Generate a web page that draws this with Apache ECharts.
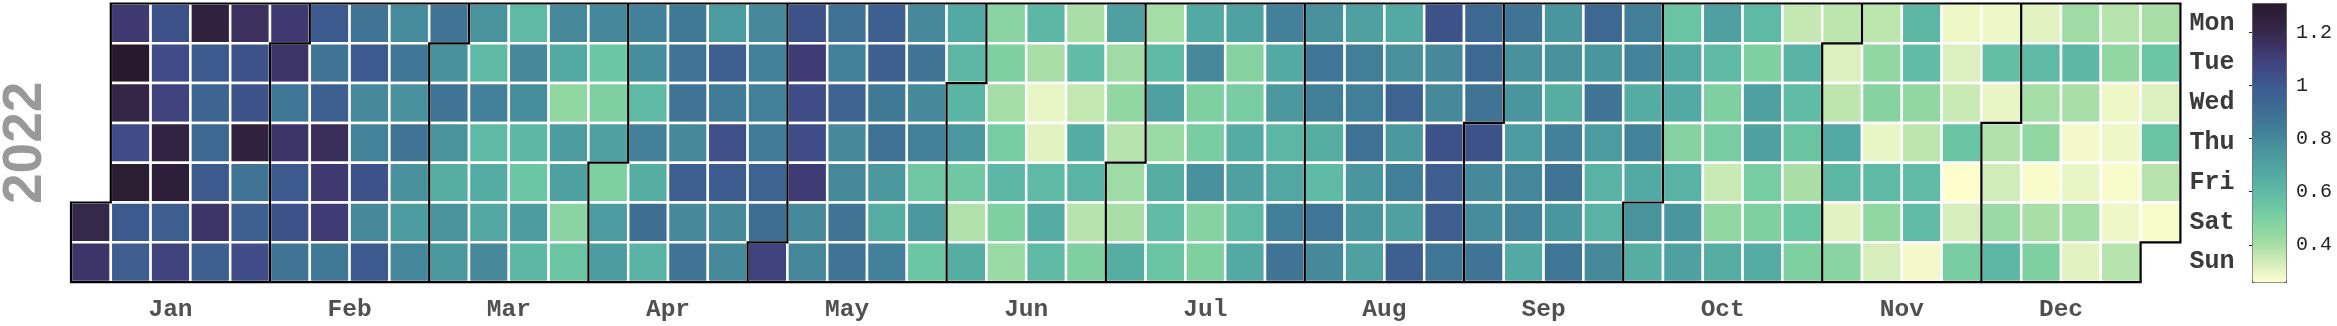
<!DOCTYPE html>
<html>
<head>
<meta charset="utf-8">
<script src="https://cdn.jsdelivr.net/npm/echarts@6/dist/echarts.min.js"></script>
<style>
html,body{margin:0;padding:0;background:#fff;}
#chart{width:2337px;height:326px;}
</style>
</head>
<body>
<div id="chart"></div>
<script>
// ---- data (2022 daily values) ----
const year = 2022;
const monthNames = ['Jan','Feb','Mar','Apr','May','Jun','Jul','Aug','Sep','Oct','Nov','Dec'];
const dayNames = ['Sun','Mon','Tue','Wed','Thu','Fri','Sat'];
const colorTicks = [0.4, 0.6, 0.8, 1, 1.2];
const valueMin = 0.26;
const valueMax = 1.31;

const jan = [1.20,1.14,1.12,1.31,1.22,1.05,1.29,1.00,0.98,1.03,1.05,1.09,1.24,1.27,0.98,1.09,1.25,1.00,0.95,0.93,1.00,1.14,0.97,1.16,1.03,1.03,1.25,0.88,0.97,1.05,1.12];
const feb = [1.14,0.87,1.14,1.00,1.03,0.88,1.00,0.88,0.97,1.17,1.12,1.11,0.86,0.88,1.00,0.80,0.82,1.03,0.80,1.00,0.79,0.87,0.77,0.88,0.77,0.73,0.81,0.88];
const mar = [0.77,0.88,0.76,0.65,0.76,0.74,0.76,0.60,0.83,0.60,0.66,0.68,0.80,0.60,0.80,0.78,0.61,0.55,0.72,0.61,0.80,0.67,0.45,0.72,0.71,0.47,0.55,0.81,0.55,0.50,0.71];
const apr = [0.50,0.73,0.72,0.83,0.78,0.60,0.83,0.65,0.90,0.63,0.86,0.88,0.88,0.80,0.97,0.80,0.88,0.73,0.97,0.85,1.04,0.99,0.80,0.80,0.80,0.83,0.83,0.85,0.95,0.90];
const may = [1.09,1.03,1.11,1.05,1.05,1.11,0.80,0.81,0.89,0.83,0.95,0.80,0.80,0.88,0.88,0.97,0.97,0.86,0.89,0.74,0.65,0.83,0.80,0.88,0.80,0.83,0.54,0.74,0.55,0.67,0.61];
const jun = [0.62,0.74,0.54,0.39,0.65,0.47,0.50,0.41,0.52,0.61,0.50,0.43,0.61,0.40,0.30,0.31,0.60,0.66,0.60,0.40,0.59,0.36,0.66,0.62,0.38,0.50,0.71,0.42,0.45,0.38];
const jul = [0.42,0.40,0.65,0.41,0.60,0.71,0.43,0.65,0.59,0.56,0.67,0.80,0.50,0.52,0.77,0.48,0.50,0.70,0.48,0.52,0.66,0.71,0.60,0.67,0.83,0.67,0.74,0.61,0.68,0.84,0.88];
const aug = [0.77,0.87,0.84,0.65,0.60,0.87,0.80,0.71,0.84,0.84,0.89,0.75,0.75,0.71,0.67,0.77,0.95,0.74,0.84,0.71,0.97,1.03,0.80,0.80,1.03,0.98,0.98,0.87,0.93,0.93,0.88];
const sep = [1.03,0.80,0.79,0.88,0.88,0.77,0.75,0.73,0.81,0.82,0.67,0.75,0.77,0.65,0.83,0.88,0.75,0.87,0.93,0.75,0.88,0.73,0.63,0.63,0.80,0.84,0.82,0.66,0.82,0.67];
const oct = [0.76,0.65,0.56,0.67,0.67,0.48,0.63,0.75,0.71,0.71,0.60,0.50,0.52,0.35,0.45,0.65,0.60,0.50,0.71,0.71,0.52,0.50,0.66,0.36,0.63,0.59,0.56,0.40,0.55,0.50,0.37];
const nov = [0.32,0.37,0.67,0.61,0.31,0.47,0.37,0.45,0.48,0.30,0.60,0.45,0.33,0.61,0.59,0.45,0.37,0.59,0.59,0.28,0.29,0.32,0.35,0.56,0.26,0.33,0.52,0.29,0.58,0.30];
const dec = [0.39,0.34,0.43,0.61,0.31,0.60,0.41,0.45,0.27,0.40,0.50,0.42,0.61,0.40,0.28,0.30,0.41,0.31,0.38,0.45,0.29,0.29,0.27,0.29,0.38,0.40,0.55,0.32,0.56,0.38,0.27];

// colormap anchors (deep-like)
const cmapValues = [0.26,0.29,0.32,0.36,0.40,0.45,0.50,0.55,0.60,0.65,0.70,0.75,0.80,0.85,0.90,0.95,1.00,1.05,1.10,1.15,1.20,1.25,1.31];
const cmapColors = ['#fdfecc','#eef7c6','#dcf0bf','#c4e8b1','#a9dea7','#90d7a2','#7fd0a1','#6bc6a3','#5ebaa5','#56aea3','#4fa2a2','#4a969e','#45899b','#407b97','#3e6f93','#3d6491','#3d5a8e','#3f4c87','#403f7a','#3c3263','#35294b','#30223f','#281a2c'];

// ---- build ----
const monthly = [jan,feb,mar,apr,may,jun,jul,aug,sep,oct,nov,dec];
const pad = n => (n < 10 ? '0' : '') + n;
const data = [];
monthly.forEach((arr, m) => arr.forEach((v, d) => data.push([year + '-' + pad(m + 1) + '-' + pad(d + 1), v])));

function hexToRgb(h){ return [parseInt(h.slice(1,3),16), parseInt(h.slice(3,5),16), parseInt(h.slice(5,7),16)]; }
function colorAt(v){
  for (let i = 0; i < cmapValues.length - 1; i++) {
    if (v <= cmapValues[i+1]) {
      const t = (v - cmapValues[i]) / (cmapValues[i+1] - cmapValues[i]);
      const a = hexToRgb(cmapColors[i]), b = hexToRgb(cmapColors[i+1]);
      return 'rgb(' + a.map((c, k) => Math.round(c + (b[k] - c) * t)).join(',') + ')';
    }
  }
  return cmapColors[cmapColors.length - 1];
}
const palette = [];
const N = 106;
for (let i = 0; i < N; i++) palette.push(colorAt(valueMin + (valueMax - valueMin) * i / (N - 1)));

const CELL = 39.8;
const monoFont = '"Liberation Mono", "DejaVu Sans Mono", monospace';
const labelStyle = {fontFamily: monoFont, fontWeight: 'bold', fontSize: 24.5, color: '#505050'};

const chart = echarts.init(document.getElementById('chart'), null, {renderer: 'canvas'});
chart.setOption({
  animation: false,
  backgroundColor: '#fff',
  calendar: {
    z: 5,
    left: 71,
    top: 3.5,
    cellSize: [CELL, CELL],
    orient: 'horizontal',
    range: String(year),
    splitLine: {show: true, lineStyle: {color: '#000', width: 2.2}},
    itemStyle: {color: 'rgba(0,0,0,0)', borderColor: 'rgba(0,0,0,0)', borderWidth: 0},
    dayLabel: {
      firstDay: 1, position: 'end', margin: 9, nameMap: dayNames,
      fontFamily: monoFont, fontWeight: 'bold', fontSize: 25, color: '#3a3a3a'
    },
    monthLabel: {
      position: 'end', margin: 15, nameMap: monthNames,
      fontFamily: monoFont, fontWeight: 'bold', fontSize: 24.5, color: '#505050',
      formatter: function (p) {
        const name = p.nameMap;
        return name === 'Jul' ? '{c|' + name + '}' : '{s|' + name + '}';
      },
      rich: {
        s: Object.assign({padding: [0, CELL, 0, 0]}, labelStyle),
        c: Object.assign({}, labelStyle)
      }
    },
    yearLabel: {
      show: true, position: 'left', margin: 18,
      fontFamily: '"Liberation Sans", Arial, sans-serif', fontWeight: 'bold', fontSize: 55, color: '#999999'
    }
  },
  visualMap: {
    type: 'continuous',
    min: valueMin, max: valueMax,
    calculable: false,
    orient: 'vertical',
    left: 2252, top: 3,
    itemWidth: 34, itemHeight: 279,
    padding: 0,
    text: null,
    seriesIndex: 0,
    borderColor: '#555', borderWidth: 1,
    inRange: {color: palette}
  },
  grid: {left: 2252, top: 3, width: 34, height: 279, show: false},
  xAxis: {type: 'value', show: false, min: 0, max: 1},
  yAxis: {
    type: 'value', min: valueMin, max: valueMax, position: 'right', z: 6,
    axisLine: {show: false}, splitLine: {show: false},
    axisTick: {show: true, inside: true, length: 3, customValues: colorTicks, lineStyle: {color: '#222', width: 1}},
    axisLabel: {customValues: colorTicks, margin: 10, fontFamily: monoFont, fontSize: 20, color: '#222'}
  },
  series: [
    {
      type: 'heatmap',
      coordinateSystem: 'calendar',
      data: data,
      itemStyle: {borderColor: '#fff', borderWidth: 2.5}
    },
    {type: 'scatter', data: [], xAxisIndex: 0, yAxisIndex: 0}
  ]
});
</script>
</body>
</html>
